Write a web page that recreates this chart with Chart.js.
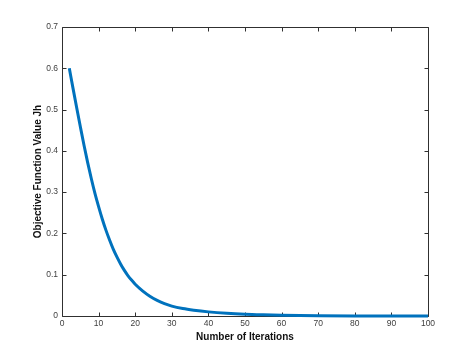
<!DOCTYPE html>
<html>
<head>
<meta charset="utf-8">
<script src="https://cdn.jsdelivr.net/npm/chart.js@4/dist/chart.umd.min.js"></script>
<style>
  html, body { margin: 0; padding: 0; background: #ffffff; }
  #wrap { width: 474px; height: 355px; position: relative; }
</style>
</head>
<body>
<div id="wrap"><canvas id="c"></canvas></div>
<script>
// Data
const iterations = [2, 3, 4, 5, 6, 7, 8, 9, 10, 11, 12, 13, 14, 15, 16, 17, 18, 19, 20,
  22, 24, 26, 28, 30, 33, 36, 40, 45, 50, 55, 60, 70, 80, 90, 100];
const objectiveValues = [0.600, 0.552, 0.505, 0.459, 0.414, 0.372, 0.333, 0.297, 0.265,
  0.235, 0.208, 0.184, 0.162, 0.143, 0.126, 0.111, 0.098, 0.087, 0.077,
  0.061, 0.048, 0.038, 0.030, 0.024, 0.018, 0.014, 0.010, 0.0065, 0.0042,
  0.0028, 0.0018, 0.0008, 0.0003, 0.0001, 0.00005];
const xTickValues = [0, 10, 20, 30, 40, 50, 60, 70, 80, 90, 100];
const yTickValues = [0, 0.1, 0.2, 0.3, 0.4, 0.5, 0.6, 0.7];
const xTitle = 'Number of Iterations';
const yTitle = 'Objective Function Value Jh';

const points = iterations.map((x, i) => ({ x: x, y: objectiveValues[i] }));

const axisColor = '#303030';
const tickLabelColor = '#404040';
const fontFamily = '"Liberation Sans", Arial, Helvetica, sans-serif';

const boxPlugin = {
  id: 'matlabBox',
  beforeDatasetsDraw(chart) {
    const { ctx, chartArea: { left, right, top, bottom }, scales: { x, y } } = chart;
    const tl = 4;
    ctx.save();
    ctx.strokeStyle = axisColor;
    ctx.lineWidth = 1;
    ctx.beginPath();
    const L = Math.round(left) + 0.5, R = Math.round(right) + 0.5;
    const T = Math.round(top) + 0.5, B = Math.round(bottom) + 0.5;
    ctx.rect(L, T, R - L, B - T);
    x.ticks.forEach(t => {
      const px = Math.round(x.getPixelForValue(t.value)) + 0.5;
      ctx.moveTo(px, B); ctx.lineTo(px, B - tl);
      ctx.moveTo(px, T); ctx.lineTo(px, T + tl);
    });
    y.ticks.forEach(t => {
      const py = Math.round(y.getPixelForValue(t.value)) + 0.5;
      ctx.moveTo(L, py); ctx.lineTo(L + tl, py);
      ctx.moveTo(R, py); ctx.lineTo(R - tl, py);
    });
    ctx.stroke();
    ctx.restore();
  }
};

new Chart(document.getElementById('c'), {
  type: 'line',
  data: {
    datasets: [{
      data: points,
      borderColor: '#0072BD',
      borderWidth: 3,
      pointRadius: 0,
      fill: false,
      cubicInterpolationMode: 'monotone',
      clip: 6
    }]
  },
  options: {
    responsive: true,
    maintainAspectRatio: false,
    animation: false,
    layout: { padding: { left: 0, top: 27, right: 46, bottom: 0 } },
    plugins: { legend: { display: false }, tooltip: { enabled: false } },
    scales: {
      x: {
        type: 'linear',
        min: 0, max: 100,
        afterFit: s => { s.height = 39; },
        afterBuildTicks: s => { s.ticks = xTickValues.map(v => ({ value: v })); },
        grid: { display: false, drawTicks: false },
        border: { display: false },
        ticks: {
          autoSkip: false, maxRotation: 0, padding: 3,
          color: tickLabelColor,
          font: { family: fontFamily, size: 8.5 },
          callback: v => String(v)
        },
        title: {
          display: true, text: xTitle, color: '#111111',
          font: { family: fontFamily, size: 10, weight: 'bold' },
          padding: { top: 0, bottom: 12 }
        }
      },
      y: {
        type: 'linear',
        min: 0, max: 0.7,
        afterFit: s => { s.width = 62; },
        afterBuildTicks: s => { s.ticks = yTickValues.map(v => ({ value: v })); },
        grid: { display: false, drawTicks: false },
        border: { display: false },
        ticks: {
          autoSkip: false, padding: 4,
          color: tickLabelColor,
          font: { family: fontFamily, size: 8.5 },
          callback: v => (v === 0 ? '0' : v.toFixed(1))
        },
        title: {
          display: true, text: yTitle, color: '#111111',
          font: { family: fontFamily, size: 10, weight: 'bold' },
          padding: { top: 32, bottom: 0 }
        }
      }
    }
  },
  plugins: [boxPlugin]
});
</script>
</body>
</html>
